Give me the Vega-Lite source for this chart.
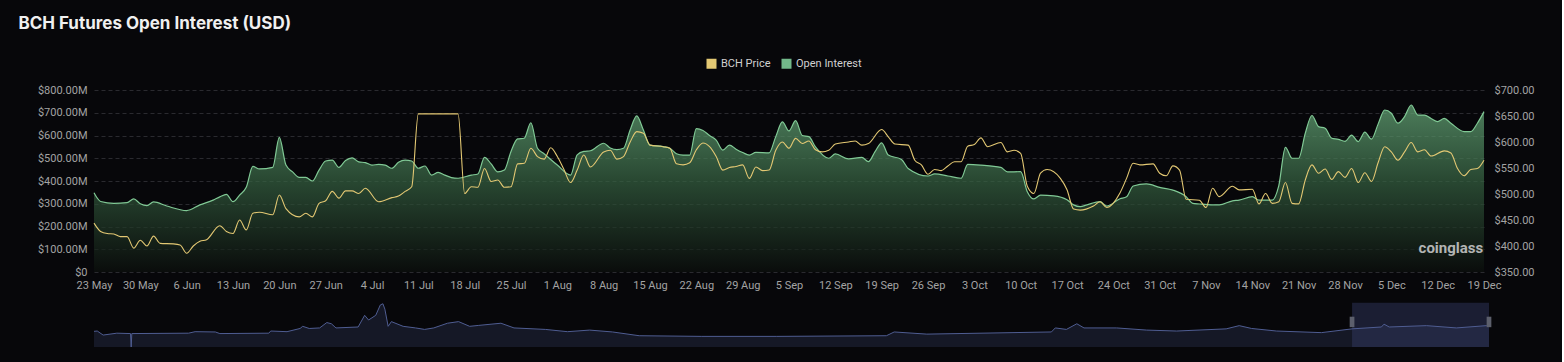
{
  "$schema": "https://vega.github.io/schema/vega-lite/v6.json",
  "background": "#07070a",
  "padding": {"left": 18, "top": 15, "right": 28, "bottom": 15},
  "autosize": {"type": "pad"},
  "title": {"text": "BCH Futures Open Interest (USD)", "anchor": "start", "frame": "bounds", "dx": -19, "offset": 25, "color": "#f0f0f0", "fontSize": 17, "font": "Inter", "fontWeight": "bold"},
  "datasets": {
    "oi": [
      {"date": "2024-05-23", "open_interest": 348}, {"date": "2024-05-24", "open_interest": 310}, {"date": "2024-05-26", "open_interest": 302}, {"date": "2024-05-28", "open_interest": 305}, {"date": "2024-05-29", "open_interest": 321}, {"date": "2024-05-30", "open_interest": 300}, {"date": "2024-05-31", "open_interest": 292}, {"date": "2024-06-01", "open_interest": 308}, {"date": "2024-06-03", "open_interest": 290}, {"date": "2024-06-06", "open_interest": 270}, {"date": "2024-06-08", "open_interest": 295}, {"date": "2024-06-10", "open_interest": 316}, {"date": "2024-06-11", "open_interest": 330}, {"date": "2024-06-12", "open_interest": 341}, {"date": "2024-06-13", "open_interest": 309}, {"date": "2024-06-14", "open_interest": 338}, {"date": "2024-06-15", "open_interest": 372}, {"date": "2024-06-16", "open_interest": 464}, {"date": "2024-06-17", "open_interest": 453}, {"date": "2024-06-19", "open_interest": 460}, {"date": "2024-06-20", "open_interest": 592}, {"date": "2024-06-21", "open_interest": 470}, {"date": "2024-06-22", "open_interest": 440}, {"date": "2024-06-23", "open_interest": 416}, {"date": "2024-06-24", "open_interest": 416}, {"date": "2024-06-25", "open_interest": 400}, {"date": "2024-06-26", "open_interest": 448}, {"date": "2024-06-27", "open_interest": 488}, {"date": "2024-06-28", "open_interest": 492}, {"date": "2024-06-29", "open_interest": 460}, {"date": "2024-06-30", "open_interest": 490}, {"date": "2024-07-01", "open_interest": 502}, {"date": "2024-07-02", "open_interest": 484}, {"date": "2024-07-03", "open_interest": 481}, {"date": "2024-07-04", "open_interest": 470}, {"date": "2024-07-05", "open_interest": 473}, {"date": "2024-07-06", "open_interest": 470}, {"date": "2024-07-07", "open_interest": 456}, {"date": "2024-07-08", "open_interest": 482}, {"date": "2024-07-09", "open_interest": 492}, {"date": "2024-07-10", "open_interest": 488}, {"date": "2024-07-11", "open_interest": 456}, {"date": "2024-07-12", "open_interest": 466}, {"date": "2024-07-13", "open_interest": 426}, {"date": "2024-07-14", "open_interest": 438}, {"date": "2024-07-15", "open_interest": 426}, {"date": "2024-07-16", "open_interest": 415}, {"date": "2024-07-17", "open_interest": 412}, {"date": "2024-07-19", "open_interest": 426}, {"date": "2024-07-20", "open_interest": 431}, {"date": "2024-07-21", "open_interest": 504}, {"date": "2024-07-22", "open_interest": 475}, {"date": "2024-07-23", "open_interest": 440}, {"date": "2024-07-24", "open_interest": 448}, {"date": "2024-07-25", "open_interest": 530}, {"date": "2024-07-26", "open_interest": 585}, {"date": "2024-07-27", "open_interest": 588}, {"date": "2024-07-28", "open_interest": 656}, {"date": "2024-07-29", "open_interest": 544}, {"date": "2024-07-30", "open_interest": 520}, {"date": "2024-08-01", "open_interest": 470}, {"date": "2024-08-03", "open_interest": 426}, {"date": "2024-08-04", "open_interest": 515}, {"date": "2024-08-05", "open_interest": 530}, {"date": "2024-08-06", "open_interest": 533}, {"date": "2024-08-08", "open_interest": 566}, {"date": "2024-08-09", "open_interest": 545}, {"date": "2024-08-10", "open_interest": 538}, {"date": "2024-08-11", "open_interest": 544}, {"date": "2024-08-12", "open_interest": 624}, {"date": "2024-08-13", "open_interest": 686}, {"date": "2024-08-14", "open_interest": 624}, {"date": "2024-08-15", "open_interest": 558}, {"date": "2024-08-17", "open_interest": 551}, {"date": "2024-08-18", "open_interest": 544}, {"date": "2024-08-19", "open_interest": 520}, {"date": "2024-08-20", "open_interest": 514}, {"date": "2024-08-21", "open_interest": 514}, {"date": "2024-08-22", "open_interest": 630}, {"date": "2024-08-23", "open_interest": 622}, {"date": "2024-08-24", "open_interest": 600}, {"date": "2024-08-25", "open_interest": 580}, {"date": "2024-08-26", "open_interest": 536}, {"date": "2024-08-27", "open_interest": 558}, {"date": "2024-08-28", "open_interest": 540}, {"date": "2024-08-29", "open_interest": 525}, {"date": "2024-08-30", "open_interest": 514}, {"date": "2024-08-31", "open_interest": 526}, {"date": "2024-09-02", "open_interest": 524}, {"date": "2024-09-03", "open_interest": 595}, {"date": "2024-09-04", "open_interest": 660}, {"date": "2024-09-05", "open_interest": 620}, {"date": "2024-09-06", "open_interest": 665}, {"date": "2024-09-07", "open_interest": 600}, {"date": "2024-09-08", "open_interest": 595}, {"date": "2024-09-09", "open_interest": 550}, {"date": "2024-09-11", "open_interest": 500}, {"date": "2024-09-12", "open_interest": 519}, {"date": "2024-09-14", "open_interest": 497}, {"date": "2024-09-16", "open_interest": 504}, {"date": "2024-09-17", "open_interest": 485}, {"date": "2024-09-18", "open_interest": 529}, {"date": "2024-09-19", "open_interest": 568}, {"date": "2024-09-20", "open_interest": 514}, {"date": "2024-09-22", "open_interest": 495}, {"date": "2024-09-23", "open_interest": 455}, {"date": "2024-09-26", "open_interest": 422}, {"date": "2024-09-27", "open_interest": 431}, {"date": "2024-09-29", "open_interest": 422}, {"date": "2024-10-01", "open_interest": 412}, {"date": "2024-10-02", "open_interest": 473}, {"date": "2024-10-04", "open_interest": 470}, {"date": "2024-10-07", "open_interest": 460}, {"date": "2024-10-08", "open_interest": 440}, {"date": "2024-10-10", "open_interest": 441}, {"date": "2024-10-11", "open_interest": 353}, {"date": "2024-10-12", "open_interest": 321}, {"date": "2024-10-13", "open_interest": 338}, {"date": "2024-10-15", "open_interest": 335}, {"date": "2024-10-17", "open_interest": 318}, {"date": "2024-10-18", "open_interest": 295}, {"date": "2024-10-19", "open_interest": 287}, {"date": "2024-10-20", "open_interest": 295}, {"date": "2024-10-22", "open_interest": 309}, {"date": "2024-10-23", "open_interest": 290}, {"date": "2024-10-25", "open_interest": 322}, {"date": "2024-10-26", "open_interest": 331}, {"date": "2024-10-27", "open_interest": 378}, {"date": "2024-10-29", "open_interest": 387}, {"date": "2024-10-31", "open_interest": 372}, {"date": "2024-11-02", "open_interest": 360}, {"date": "2024-11-04", "open_interest": 331}, {"date": "2024-11-05", "open_interest": 302}, {"date": "2024-11-06", "open_interest": 299}, {"date": "2024-11-08", "open_interest": 295}, {"date": "2024-11-09", "open_interest": 295}, {"date": "2024-11-11", "open_interest": 313}, {"date": "2024-11-12", "open_interest": 316}, {"date": "2024-11-14", "open_interest": 331}, {"date": "2024-11-15", "open_interest": 316}, {"date": "2024-11-17", "open_interest": 316}, {"date": "2024-11-18", "open_interest": 380}, {"date": "2024-11-19", "open_interest": 548}, {"date": "2024-11-20", "open_interest": 500}, {"date": "2024-11-21", "open_interest": 500}, {"date": "2024-11-22", "open_interest": 610}, {"date": "2024-11-23", "open_interest": 688}, {"date": "2024-11-24", "open_interest": 639}, {"date": "2024-11-25", "open_interest": 632}, {"date": "2024-11-26", "open_interest": 588}, {"date": "2024-11-27", "open_interest": 583}, {"date": "2024-11-28", "open_interest": 574}, {"date": "2024-11-29", "open_interest": 602}, {"date": "2024-11-30", "open_interest": 573}, {"date": "2024-12-01", "open_interest": 615}, {"date": "2024-12-02", "open_interest": 584}, {"date": "2024-12-03", "open_interest": 650}, {"date": "2024-12-04", "open_interest": 712}, {"date": "2024-12-05", "open_interest": 698}, {"date": "2024-12-06", "open_interest": 654}, {"date": "2024-12-07", "open_interest": 683}, {"date": "2024-12-08", "open_interest": 734}, {"date": "2024-12-09", "open_interest": 690}, {"date": "2024-12-10", "open_interest": 690}, {"date": "2024-12-11", "open_interest": 675}, {"date": "2024-12-12", "open_interest": 661}, {"date": "2024-12-13", "open_interest": 675}, {"date": "2024-12-14", "open_interest": 654}, {"date": "2024-12-16", "open_interest": 617}, {"date": "2024-12-17", "open_interest": 617}, {"date": "2024-12-18", "open_interest": 654}, {"date": "2024-12-19", "open_interest": 705}
    ],
    "price": [
      {"date": "2024-05-23", "price": 444}, {"date": "2024-05-24", "price": 428}, {"date": "2024-05-25", "price": 424}, {"date": "2024-05-26", "price": 423}, {"date": "2024-05-27", "price": 418}, {"date": "2024-05-28", "price": 418}, {"date": "2024-05-29", "price": 396}, {"date": "2024-05-30", "price": 411}, {"date": "2024-05-31", "price": 400}, {"date": "2024-06-01", "price": 419}, {"date": "2024-06-02", "price": 405}, {"date": "2024-06-04", "price": 404}, {"date": "2024-06-05", "price": 402}, {"date": "2024-06-06", "price": 386}, {"date": "2024-06-07", "price": 400}, {"date": "2024-06-08", "price": 409}, {"date": "2024-06-09", "price": 412}, {"date": "2024-06-11", "price": 439}, {"date": "2024-06-12", "price": 428}, {"date": "2024-06-13", "price": 424}, {"date": "2024-06-14", "price": 450}, {"date": "2024-06-15", "price": 431}, {"date": "2024-06-16", "price": 463}, {"date": "2024-06-17", "price": 465}, {"date": "2024-06-19", "price": 460}, {"date": "2024-06-20", "price": 498}, {"date": "2024-06-21", "price": 472}, {"date": "2024-06-23", "price": 456}, {"date": "2024-06-24", "price": 463}, {"date": "2024-06-25", "price": 456}, {"date": "2024-06-26", "price": 482}, {"date": "2024-06-27", "price": 487}, {"date": "2024-06-28", "price": 505}, {"date": "2024-06-29", "price": 492}, {"date": "2024-06-30", "price": 506}, {"date": "2024-07-01", "price": 506}, {"date": "2024-07-02", "price": 501}, {"date": "2024-07-03", "price": 511}, {"date": "2024-07-05", "price": 485}, {"date": "2024-07-07", "price": 493}, {"date": "2024-07-08", "price": 496}, {"date": "2024-07-09", "price": 505}, {"date": "2024-07-10", "price": 514}, {"date": "2024-07-11", "price": 654}, {"date": "2024-07-17", "price": 654}, {"date": "2024-07-18", "price": 501}, {"date": "2024-07-19", "price": 514}, {"date": "2024-07-20", "price": 513}, {"date": "2024-07-21", "price": 549}, {"date": "2024-07-22", "price": 524}, {"date": "2024-07-23", "price": 527}, {"date": "2024-07-24", "price": 513}, {"date": "2024-07-25", "price": 514}, {"date": "2024-07-26", "price": 558}, {"date": "2024-07-27", "price": 559}, {"date": "2024-07-28", "price": 588}, {"date": "2024-07-29", "price": 572}, {"date": "2024-07-30", "price": 567}, {"date": "2024-07-31", "price": 589}, {"date": "2024-08-01", "price": 572}, {"date": "2024-08-02", "price": 547}, {"date": "2024-08-03", "price": 522}, {"date": "2024-08-04", "price": 546}, {"date": "2024-08-05", "price": 575}, {"date": "2024-08-06", "price": 552}, {"date": "2024-08-08", "price": 581}, {"date": "2024-08-09", "price": 584}, {"date": "2024-08-10", "price": 567}, {"date": "2024-08-11", "price": 572}, {"date": "2024-08-12", "price": 600}, {"date": "2024-08-13", "price": 620}, {"date": "2024-08-14", "price": 617}, {"date": "2024-08-15", "price": 594}, {"date": "2024-08-17", "price": 591}, {"date": "2024-08-18", "price": 588}, {"date": "2024-08-19", "price": 558}, {"date": "2024-08-20", "price": 556}, {"date": "2024-08-21", "price": 560}, {"date": "2024-08-22", "price": 585}, {"date": "2024-08-23", "price": 598}, {"date": "2024-08-24", "price": 591}, {"date": "2024-08-25", "price": 572}, {"date": "2024-08-26", "price": 546}, {"date": "2024-08-27", "price": 551}, {"date": "2024-08-28", "price": 553}, {"date": "2024-08-29", "price": 556}, {"date": "2024-08-30", "price": 530}, {"date": "2024-08-31", "price": 552}, {"date": "2024-09-01", "price": 545}, {"date": "2024-09-02", "price": 546}, {"date": "2024-09-03", "price": 584}, {"date": "2024-09-04", "price": 600}, {"date": "2024-09-05", "price": 588}, {"date": "2024-09-06", "price": 607}, {"date": "2024-09-07", "price": 597}, {"date": "2024-09-08", "price": 602}, {"date": "2024-09-09", "price": 585}, {"date": "2024-09-10", "price": 581}, {"date": "2024-09-11", "price": 584}, {"date": "2024-09-12", "price": 596}, {"date": "2024-09-14", "price": 600}, {"date": "2024-09-15", "price": 602}, {"date": "2024-09-16", "price": 594}, {"date": "2024-09-17", "price": 597}, {"date": "2024-09-19", "price": 624}, {"date": "2024-09-20", "price": 610}, {"date": "2024-09-21", "price": 596}, {"date": "2024-09-23", "price": 594}, {"date": "2024-09-24", "price": 565}, {"date": "2024-09-25", "price": 556}, {"date": "2024-09-26", "price": 538}, {"date": "2024-09-27", "price": 547}, {"date": "2024-09-28", "price": 545}, {"date": "2024-09-29", "price": 554}, {"date": "2024-09-30", "price": 562}, {"date": "2024-10-01", "price": 562}, {"date": "2024-10-02", "price": 592}, {"date": "2024-10-03", "price": 595}, {"date": "2024-10-04", "price": 608}, {"date": "2024-10-05", "price": 591}, {"date": "2024-10-07", "price": 599}, {"date": "2024-10-08", "price": 581}, {"date": "2024-10-09", "price": 584}, {"date": "2024-10-10", "price": 578}, {"date": "2024-10-11", "price": 515}, {"date": "2024-10-12", "price": 501}, {"date": "2024-10-13", "price": 540}, {"date": "2024-10-14", "price": 547}, {"date": "2024-10-16", "price": 530}, {"date": "2024-10-17", "price": 508}, {"date": "2024-10-18", "price": 471}, {"date": "2024-10-19", "price": 469}, {"date": "2024-10-21", "price": 477}, {"date": "2024-10-22", "price": 485}, {"date": "2024-10-23", "price": 474}, {"date": "2024-10-25", "price": 502}, {"date": "2024-10-26", "price": 530}, {"date": "2024-10-27", "price": 559}, {"date": "2024-10-28", "price": 556}, {"date": "2024-10-30", "price": 558}, {"date": "2024-10-31", "price": 540}, {"date": "2024-11-01", "price": 535}, {"date": "2024-11-02", "price": 554}, {"date": "2024-11-03", "price": 546}, {"date": "2024-11-04", "price": 490}, {"date": "2024-11-06", "price": 488}, {"date": "2024-11-07", "price": 474}, {"date": "2024-11-08", "price": 511}, {"date": "2024-11-09", "price": 495}, {"date": "2024-11-11", "price": 515}, {"date": "2024-11-12", "price": 508}, {"date": "2024-11-14", "price": 509}, {"date": "2024-11-15", "price": 481}, {"date": "2024-11-16", "price": 501}, {"date": "2024-11-17", "price": 482}, {"date": "2024-11-18", "price": 485}, {"date": "2024-11-19", "price": 522}, {"date": "2024-11-20", "price": 482}, {"date": "2024-11-21", "price": 481}, {"date": "2024-11-22", "price": 527}, {"date": "2024-11-23", "price": 556}, {"date": "2024-11-24", "price": 540}, {"date": "2024-11-25", "price": 548}, {"date": "2024-11-26", "price": 528}, {"date": "2024-11-27", "price": 543}, {"date": "2024-11-28", "price": 532}, {"date": "2024-11-29", "price": 549}, {"date": "2024-11-30", "price": 522}, {"date": "2024-12-01", "price": 541}, {"date": "2024-12-02", "price": 524}, {"date": "2024-12-03", "price": 560}, {"date": "2024-12-04", "price": 591}, {"date": "2024-12-05", "price": 581}, {"date": "2024-12-06", "price": 565}, {"date": "2024-12-07", "price": 581}, {"date": "2024-12-08", "price": 599}, {"date": "2024-12-09", "price": 581}, {"date": "2024-12-10", "price": 585}, {"date": "2024-12-11", "price": 573}, {"date": "2024-12-13", "price": 583}, {"date": "2024-12-14", "price": 579}, {"date": "2024-12-15", "price": 549}, {"date": "2024-12-16", "price": 535}, {"date": "2024-12-17", "price": 547}, {"date": "2024-12-18", "price": 549}, {"date": "2024-12-19", "price": 565}
    ],
    "nav": [
      {"date": "2019-02-10", "value": 400}, {"date": "2019-02-15", "value": 408}, {"date": "2019-02-24", "value": 305}, {"date": "2019-03-17", "value": 353}, {"date": "2019-04-07", "value": 343}, {"date": "2019-04-08", "value": 0}, {"date": "2019-04-09", "value": 343}, {"date": "2019-07-05", "value": 353}, {"date": "2019-07-15", "value": 391}, {"date": "2019-08-15", "value": 384}, {"date": "2019-08-22", "value": 343}, {"date": "2019-11-05", "value": 353}, {"date": "2019-11-08", "value": 408}, {"date": "2019-12-03", "value": 391}, {"date": "2019-12-23", "value": 473}, {"date": "2019-12-27", "value": 528}, {"date": "2020-01-06", "value": 473}, {"date": "2020-01-22", "value": 487}, {"date": "2020-02-02", "value": 624}, {"date": "2020-02-09", "value": 593}, {"date": "2020-02-16", "value": 487}, {"date": "2020-03-21", "value": 511}, {"date": "2020-03-31", "value": 809}, {"date": "2020-04-06", "value": 689}, {"date": "2020-04-17", "value": 809}, {"date": "2020-04-24", "value": 1073}, {"date": "2020-04-28", "value": 1104}, {"date": "2020-05-01", "value": 967}, {"date": "2020-05-06", "value": 528}, {"date": "2020-05-11", "value": 648}, {"date": "2020-05-29", "value": 528}, {"date": "2020-06-17", "value": 487}, {"date": "2020-07-01", "value": 449}, {"date": "2020-07-15", "value": 487}, {"date": "2020-08-05", "value": 607}, {"date": "2020-08-22", "value": 648}, {"date": "2020-09-08", "value": 528}, {"date": "2020-09-22", "value": 552}, {"date": "2020-10-26", "value": 607}, {"date": "2020-11-15", "value": 487}, {"date": "2021-01-02", "value": 449}, {"date": "2021-02-05", "value": 391}, {"date": "2021-03-11", "value": 432}, {"date": "2021-04-15", "value": 384}, {"date": "2021-05-26", "value": 288}, {"date": "2021-08-30", "value": 271}, {"date": "2021-12-23", "value": 271}, {"date": "2022-06-09", "value": 288}, {"date": "2022-06-21", "value": 384}, {"date": "2022-08-10", "value": 329}, {"date": "2023-02-17", "value": 384}, {"date": "2023-02-23", "value": 487}, {"date": "2023-03-12", "value": 449}, {"date": "2023-03-28", "value": 593}, {"date": "2023-04-08", "value": 487}, {"date": "2023-05-28", "value": 487}, {"date": "2023-07-13", "value": 432}, {"date": "2023-08-28", "value": 408}, {"date": "2023-11-12", "value": 463}, {"date": "2023-12-02", "value": 545}, {"date": "2023-12-21", "value": 473}, {"date": "2024-01-28", "value": 408}, {"date": "2024-04-06", "value": 367}, {"date": "2024-05-23", "value": 463}, {"date": "2024-07-07", "value": 511}, {"date": "2024-07-11", "value": 583}, {"date": "2024-07-19", "value": 511}, {"date": "2024-09-14", "value": 545}, {"date": "2024-10-30", "value": 487}, {"date": "2024-12-15", "value": 545}, {"date": "2024-12-19", "value": 552}
    ]
  },
  "config": {
    "view": {"stroke": null},
    "axis": {"labelColor": "#a3a3a3", "labelFont": "Roboto", "labelFontSize": 11, "domain": false, "ticks": false, "grid": false, "title": null, "labelOverlap": false}
  },
  "bounds": "flush",
  "spacing": 28,
  "vconcat": [
    {
      "width": 1390,
      "height": 182,
      "layer": [
        {
          "data": {"name": "oi"},
          "mark": {"type": "area", "interpolate": "monotone", "line": {"color": "#80c995", "strokeWidth": 1.2}, "fill": {"gradient": "linear", "x1": 0, "y1": 0, "x2": 0, "y2": 1, "stops": [{"offset": 0, "color": "#6bb07e"}, {"offset": 0.45, "color": "#376443"}, {"offset": 1, "color": "#0b0f0c"}]}},
          "encoding": {
            "x": {"field": "date", "type": "temporal", "scale": {"type": "utc"}, "axis": {"format": "%-d %b", "labelPadding": 7, "labelFlush": false, "labelOverlap": false, "values": [
              {"year": 2024, "month": 5, "date": 23, "utc": true}, {"year": 2024, "month": 5, "date": 30, "utc": true}, {"year": 2024, "month": 6, "date": 6, "utc": true}, {"year": 2024, "month": 6, "date": 13, "utc": true}, {"year": 2024, "month": 6, "date": 20, "utc": true}, {"year": 2024, "month": 6, "date": 27, "utc": true}, {"year": 2024, "month": 7, "date": 4, "utc": true}, {"year": 2024, "month": 7, "date": 11, "utc": true}, {"year": 2024, "month": 7, "date": 18, "utc": true}, {"year": 2024, "month": 7, "date": 25, "utc": true}, {"year": 2024, "month": 8, "date": 1, "utc": true}, {"year": 2024, "month": 8, "date": 8, "utc": true}, {"year": 2024, "month": 8, "date": 15, "utc": true}, {"year": 2024, "month": 8, "date": 22, "utc": true}, {"year": 2024, "month": 8, "date": 29, "utc": true}, {"year": 2024, "month": 9, "date": 5, "utc": true}, {"year": 2024, "month": 9, "date": 12, "utc": true}, {"year": 2024, "month": 9, "date": 19, "utc": true}, {"year": 2024, "month": 9, "date": 26, "utc": true}, {"year": 2024, "month": 10, "date": 3, "utc": true}, {"year": 2024, "month": 10, "date": 10, "utc": true}, {"year": 2024, "month": 10, "date": 17, "utc": true}, {"year": 2024, "month": 10, "date": 24, "utc": true}, {"year": 2024, "month": 10, "date": 31, "utc": true}, {"year": 2024, "month": 11, "date": 7, "utc": true}, {"year": 2024, "month": 11, "date": 14, "utc": true}, {"year": 2024, "month": 11, "date": 21, "utc": true}, {"year": 2024, "month": 11, "date": 28, "utc": true}, {"year": 2024, "month": 12, "date": 5, "utc": true}, {"year": 2024, "month": 12, "date": 12, "utc": true}, {"year": 2024, "month": 12, "date": 19, "utc": true}
            ]}},
            "y": {"field": "open_interest", "type": "quantitative", "scale": {"domain": [0, 800], "nice": false}, "axis": {"orient": "left", "values": [0, 100, 200, 300, 400, 500, 600, 700, 800], "labelOverlap": false, "labelExpr": "datum.value == 0 ? '$0' : '$' + format(datum.value, '.2f') + 'M'", "labelPadding": 7, "grid": true, "gridColor": "#2a2a2f", "gridDash": [4, 3], "gridWidth": 1}}
          }
        },
        {
          "data": {"name": "price"},
          "mark": {"type": "line", "interpolate": "monotone", "strokeWidth": 1.1},
          "encoding": {
            "x": {"field": "date", "type": "temporal"},
            "y": {"field": "price", "type": "quantitative", "scale": {"domain": [350, 700]}, "axis": {"orient": "right", "values": [350, 400, 450, 500, 550, 600, 650, 700], "format": "$.2f", "labelPadding": 10}},
            "color": {"datum": "BCH Price", "type": "nominal", "scale": {"domain": ["BCH Price", "Open Interest"], "range": ["#e3c873", "#72b98a"]}, "legend": {"orient": "none", "legendX": 612, "legendY": -32, "direction": "horizontal", "title": null, "symbolType": "square", "symbolSize": 100, "symbolStrokeWidth": 0, "labelColor": "#d0d0d0", "labelFontSize": 11, "labelFont": "Roboto", "columnPadding": 10, "encode": {"symbols": {"update": {"fill": {"scale": "color", "field": "value"}, "stroke": {"value": "transparent"}}}}}}
          }
        },
        {
          "data": {"values": [{"label": "coinglass"}]},
          "mark": {"type": "text", "font": "Roboto", "fontWeight": "bold", "fontSize": 15, "color": "#cfcfcf", "opacity": 0.85, "align": "center", "baseline": "middle"},
          "encoding": {
            "x": {"datum": {"year": 2024, "month": 12, "date": 14, "utc": true}, "type": "temporal"},
            "y": {"datum": 105, "type": "quantitative", "scale": {"domain": [0, 800]}, "axis": null},
            "text": {"field": "label"}
          }
        }
      ],
      "resolve": {"scale": {"y": "independent"}}
    },
    {
      "width": 1395,
      "height": 47,
      "data": {"name": "nav"},
      "layer": [
        {
          "data": {"values": [{"label": "window"}]},
          "mark": {"type": "rect", "fill": "#1c2036", "opacity": 0.95},
          "encoding": {
            "x": {"datum": {"year": 2024, "month": 5, "date": 23, "utc": true}, "type": "temporal"},
            "x2": {"datum": {"year": 2024, "month": 12, "date": 19, "utc": true}},
            "y": {"datum": 0, "type": "quantitative"},
            "y2": {"datum": 1130}
          }
        },
        {
          "mark": {"type": "area", "fill": "#3a4470", "opacity": 0.28},
          "encoding": {
            "x": {"field": "date", "type": "temporal", "scale": {"type": "utc", "domain": [{"year": 2019, "month": 2, "date": 10, "utc": true}, {"year": 2024, "month": 12, "date": 19, "utc": true}]}, "axis": null},
            "y": {"field": "value", "type": "quantitative", "scale": {"domain": [0, 1130]}, "axis": null}
          }
        },
        {
          "mark": {"type": "line", "stroke": "#4f5d92", "strokeWidth": 1},
          "encoding": {
            "x": {"field": "date", "type": "temporal"},
            "y": {"field": "value", "type": "quantitative"}
          }
        },
        {
          "data": {"values": [{"handle": "start", "d": "2024-05-23"}, {"handle": "end", "d": "2024-12-19"}]},
          "mark": {"type": "point", "filled": true, "shape": "M -0.45 -1 L 0.45 -1 L 0.45 1 L -0.45 1 Z", "size": 110, "color": "#5c5f6c", "opacity": 1},
          "encoding": {
            "x": {"field": "d", "type": "temporal"},
            "y": {"datum": 640, "type": "quantitative"}
          }
        }
      ]
    }
  ]
}
